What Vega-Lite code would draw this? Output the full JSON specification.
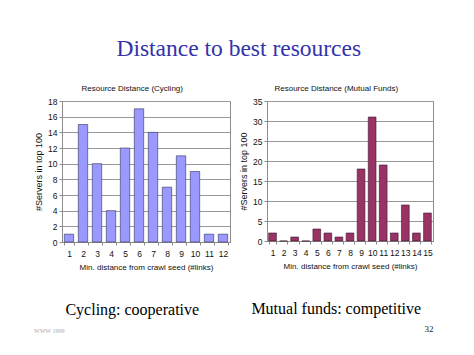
{
  "$schema": "https://vega.github.io/schema/vega-lite/v6.json",
  "background": "white",
  "padding": {"left": 34, "top": 37, "right": 5, "bottom": 5},
  "config": {
    "view": {"stroke": "#8c8c8c", "strokeWidth": 1},
    "axis": {
      "labelFont": "Liberation Sans",
      "labelFontSize": 8.5,
      "labelColor": "#111",
      "titleFont": "Liberation Sans",
      "titleFontSize": 8,
      "titleFontWeight": "normal",
      "titleColor": "#111",
      "domainColor": "#8c8c8c",
      "tickColor": "#8c8c8c",
      "gridColor": "#999999",
      "tickSize": 3
    },
    "concat": {"spacing": 8}
  },
  "title": {
    "text": "Distance to best resources",
    "font": "Liberation Serif",
    "fontSize": 23.5,
    "fontWeight": "normal",
    "color": "#3333aa",
    "anchor": "middle",
    "dx": 5,
    "offset": 24
  },
  "vconcat": [
    {
      "title": {"text": "32", "orient": "bottom", "anchor": "end", "font": "Liberation Serif", "fontSize": 9, "fontWeight": "normal", "color": "#222", "dy": -13, "offset": 4},
      "vconcat": [
        {
          "title": {"text": "WWW 1999", "orient": "bottom", "anchor": "start", "font": "Liberation Serif", "fontSize": 6, "fontWeight": "normal", "color": "#aaaaaa", "offset": 10},
          "hconcat": [
            {
              "title": {"text": "Cycling: cooperative", "orient": "bottom", "anchor": "middle", "font": "Liberation Serif", "fontSize": 16, "fontWeight": "normal", "color": "#000", "offset": 30},
              "vconcat": [
                {
                  "width": 168,
                  "height": 141,
                  "title": {"text": "Resource Distance (Cycling)", "font": "Liberation Sans", "fontSize": 8, "fontWeight": "normal", "color": "#111", "offset": 4, "frame": "bounds"},
                  "data": {"values": [
                    {"distance": 1, "servers": 1},
                    {"distance": 2, "servers": 15},
                    {"distance": 3, "servers": 10},
                    {"distance": 4, "servers": 4},
                    {"distance": 5, "servers": 12},
                    {"distance": 6, "servers": 17},
                    {"distance": 7, "servers": 14},
                    {"distance": 8, "servers": 7},
                    {"distance": 9, "servers": 11},
                    {"distance": 10, "servers": 9},
                    {"distance": 11, "servers": 1},
                    {"distance": 12, "servers": 1}
                  ]},
                  "mark": {"type": "bar", "color": "#9999ff", "stroke": "#33335a", "strokeWidth": 0.6},
                  "encoding": {
                    "x": {"field": "distance", "type": "ordinal", "scale": {"paddingInner": 0.33, "paddingOuter": 0.165},
                      "axis": {"labelAngle": 0, "title": "Min. distance from crawl seed (#links)", "tickBand": "extent", "labelPadding": 4, "titlePadding": 6}},
                    "y": {"field": "servers", "type": "quantitative", "scale": {"domain": [0, 18], "nice": false},
                      "axis": {"values": [0, 2, 4, 6, 8, 10, 12, 14, 16, 18], "title": "#Servers in top 100", "titleFontSize": 9, "grid": true, "titlePadding": 4}}
                  }
                }
              ]
            },
            {
              "title": {"text": "Mutual funds: competitive", "orient": "bottom", "anchor": "middle", "font": "Liberation Serif", "fontSize": 16, "fontWeight": "normal", "color": "#000", "offset": 30},
              "vconcat": [
                {
                  "width": 166,
                  "height": 140,
                  "title": {"text": "Resource Distance (Mutual Funds)", "font": "Liberation Sans", "fontSize": 8, "fontWeight": "normal", "color": "#111", "offset": 4, "frame": "bounds"},
                  "data": {"values": [
                    {"distance": 1, "servers": 2},
                    {"distance": 2, "servers": 0},
                    {"distance": 3, "servers": 1},
                    {"distance": 4, "servers": 0},
                    {"distance": 5, "servers": 3},
                    {"distance": 6, "servers": 2},
                    {"distance": 7, "servers": 1},
                    {"distance": 8, "servers": 2},
                    {"distance": 9, "servers": 18},
                    {"distance": 10, "servers": 31},
                    {"distance": 11, "servers": 19},
                    {"distance": 12, "servers": 2},
                    {"distance": 13, "servers": 9},
                    {"distance": 14, "servers": 2},
                    {"distance": 15, "servers": 7}
                  ]},
                  "mark": {"type": "bar", "color": "#993366", "stroke": "#3a1a2a", "strokeWidth": 0.6},
                  "encoding": {
                    "x": {"field": "distance", "type": "ordinal", "scale": {"paddingInner": 0.3, "paddingOuter": 0.15},
                      "axis": {"labelAngle": 0, "title": "Min. distance from crawl seed (#links)", "tickBand": "extent", "labelPadding": 4, "titlePadding": 6}},
                    "y": {"field": "servers", "type": "quantitative", "scale": {"domain": [0, 35], "nice": false},
                      "axis": {"values": [0, 5, 10, 15, 20, 25, 30, 35], "title": "#Servers in top 100", "titleFontSize": 9, "grid": true, "titlePadding": 4}}
                  }
                }
              ]
            }
          ]
        }
      ]
    }
  ]
}
